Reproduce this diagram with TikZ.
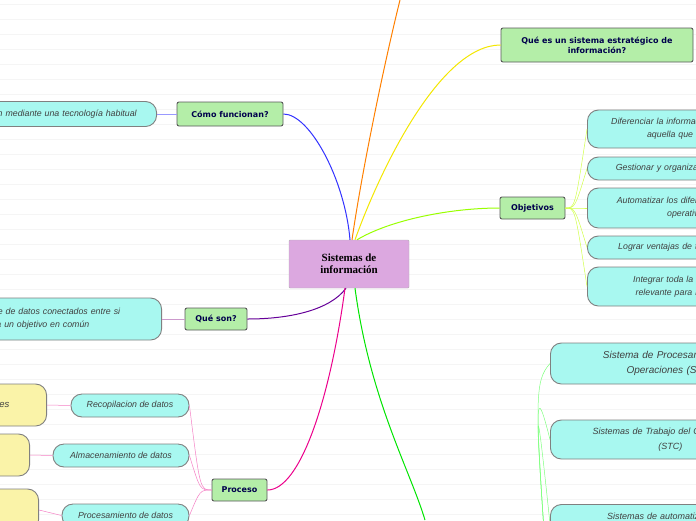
\documentclass[tikz,border=0pt]{standalone}
\usepackage{fontspec}
\setsansfont{DejaVu Sans}
\newfontfamily\handf{Liberation Sans}
\newfontfamily\ttlf{Liberation Serif}
\definecolor{cyanf}{HTML}{A8F8F0}
\definecolor{greenf}{HTML}{B4EEA8}
\definecolor{yelf}{HTML}{FAF3A8}
\definecolor{centf}{HTML}{DCA8E0}
\begin{document}
\begin{tikzpicture}[x=1pt,y=-1pt,
 main/.style={draw=black!65,line width=0.9pt,rounded corners=2pt,fill=greenf,font=\sffamily\bfseries\fontsize{8}{10}\selectfont,text=blue!30!black,inner sep=0pt},
 leaf/.style={draw=black!50,line width=0.9pt,rounded corners=11pt,fill=cyanf,font=\handf\itshape\fontsize{8.8}{13}\selectfont,text=black!75,inner sep=0pt,align=center},
 yel/.style={leaf,fill=yelf},
 br/.style={line width=0.5pt}]
\useasboundingbox (0,0) rectangle (696,520);
\fill[white] (0,0) rectangle (696,520);
\foreach \y in {4,19,...,520} \draw[black!4] (0,\y) -- (696,\y);
% center
\node[draw=black!30,fill=centf,rounded corners=1pt,minimum width=120pt,minimum height=48pt,align=center,font=\ttlf\bfseries\fontsize{11}{12}\selectfont] (c) at (349,264) {Sistemas de\\información};
% main nodes
\node[main,minimum width=192pt,minimum height=34pt,align=center] (q) at (597,45) {Qué es un sistema estratégico de\\información?};
\node[main,minimum width=106pt,minimum height=24pt] (como) at (230,114) {Cómo funcionan?};
\node[main,minimum width=65pt,minimum height=22pt] (obj) at (532.5,208) {Objetivos};
\node[main,minimum width=62pt,minimum height=22pt] (son) at (216,319) {Qué son?};
\node[main,minimum width=55pt,minimum height=22pt] (pro) at (239.5,490) {Proceso};
\coordinate (top) at (400,0);
\coordinate (bot) at (425,520);
\coordinate (bot2) at (545,545);
\draw[br,orange,line width=1pt] ([xshift=3pt]c.north) .. controls (362,170) and (385,60) .. (top);
\draw[br,yellow!90!olive,line width=1pt] ([xshift=6pt]c.north) .. controls (380,170) and (440,45) .. (q.west);
\draw[br,blue!80,line width=1pt] ([xshift=1pt]c.north) .. controls (345,180) and (310,114) .. (como.east);
\draw[br,lime!80!green,line width=1pt] ([xshift=8pt]c.north) .. controls (390,220) and (450,208) .. (obj.west);
\draw[br,violet!80!blue,line width=1pt] ([xshift=-3pt]c.south) .. controls (330,310) and (290,319) .. (son.east);
\draw[br,magenta,line width=1pt] ([xshift=-4pt]c.south) .. controls (330,400) and (300,490) .. (pro.east);
\draw[br,green!90!black,line width=1pt] ([xshift=6pt]c.south) .. controls (370,400) and (410,470) .. (bot);
% left leaves
\node[leaf,anchor=east,minimum width=230pt,minimum height=25pt,text width=220pt] (l1) at (157,114) {Se comunican mediante una tecnología habitual};
\draw[br,blue!40] (l1.east) -- (como.west);
\node[leaf,anchor=east,minimum width=250pt,minimum height=42pt,text width=240pt] (l2) at (162,319) {Es una serie de datos conectados entre si\\para un objetivo en común};
\draw[br,violet!40] (l2.east) -- (son.west);
% objectives
\begin{scope}[every node/.style={leaf,anchor=west,minimum width=200pt,text width=190pt}]
\node[minimum height=38pt] (o1) at (587,129) {Diferenciar la información relevante de\\aquella que no lo es};
\node[minimum height=23pt] (o2) at (587,168.5) {Gestionar y organizar la información};
\node[minimum height=40pt] (o3) at (587,208) {Automatizar los diferentes procesos\\operativos};
\node[minimum height=23pt] (o4) at (587,247.5) {Lograr ventajas de tipo competitivo};
\node[minimum height=39pt] (o5) at (587,286.5) {Integrar toda la información\\relevante para la empresa};
\end{scope}
\foreach \o in {o1,o2,o3,o4,o5} \draw[br,lime!70] (obj.east) .. controls (575,208) and (575,208) .. (\o.west);
% proceso children
\node[leaf,minimum width=118pt,minimum height=23pt] (p1) at (130,405.5) {Recopilacion de datos};
\node[leaf,minimum width=136pt,minimum height=23pt] (p2) at (121,455.5) {Almacenamiento de datos};
\node[leaf,minimum width=127pt,minimum height=23pt] (p3) at (125.5,515.5) {Procesamiento de datos};
\foreach \p in {p1,p2,p3} \draw[br,magenta!50] (pro.west) .. controls (200,490) and (200,490) .. (\p.east);
\node[yel,anchor=east,minimum width=150pt,minimum height=42pt,text width=140pt,font=\handf\itshape\fontsize{9.5}{14}\selectfont] (y1) at (47,405) {Datos disponibles\\ };
\node[yel,anchor=east,minimum width=150pt,minimum height=42pt] (y2) at (30,455) {};
\node[yel,anchor=east,minimum width=150pt,minimum height=42pt,text width=140pt,font=\handf\itshape\fontsize{9.5}{14}\selectfont] (y3) at (39,510) {Datos\\procesados para};
\draw[br,magenta!50] (y1.east) -- (p1.west);
\draw[br,magenta!50] (y2.east) -- (p2.west);
\draw[br,magenta!50] (y3.east) -- (p3.west);
% bottom right
\begin{scope}[every node/.style={leaf,anchor=west,minimum width=240pt,text width=230pt,font=\handf\itshape\fontsize{10}{15}\selectfont}]
\node[minimum height=41pt] (s1) at (550,363.5) {Sistema de Procesamiento de\\Operaciones (SPO)};
\node[minimum height=39pt,font=\handf\itshape\fontsize{9}{15}\selectfont] (s2) at (550,439.5) {Sistemas de Trabajo del Conocimiento\\(STC)};
\node[minimum height=39pt,font=\handf\itshape\fontsize{9}{15}\selectfont] (s3) at (550,524) {Sistemas de automatización en\\oficinas};
\end{scope}
\foreach \s in {s1,s2,s3} \draw[br,green!50] (bot2) .. controls (535,400) and (535,380) .. (\s.west);
\end{tikzpicture}
\end{document}
